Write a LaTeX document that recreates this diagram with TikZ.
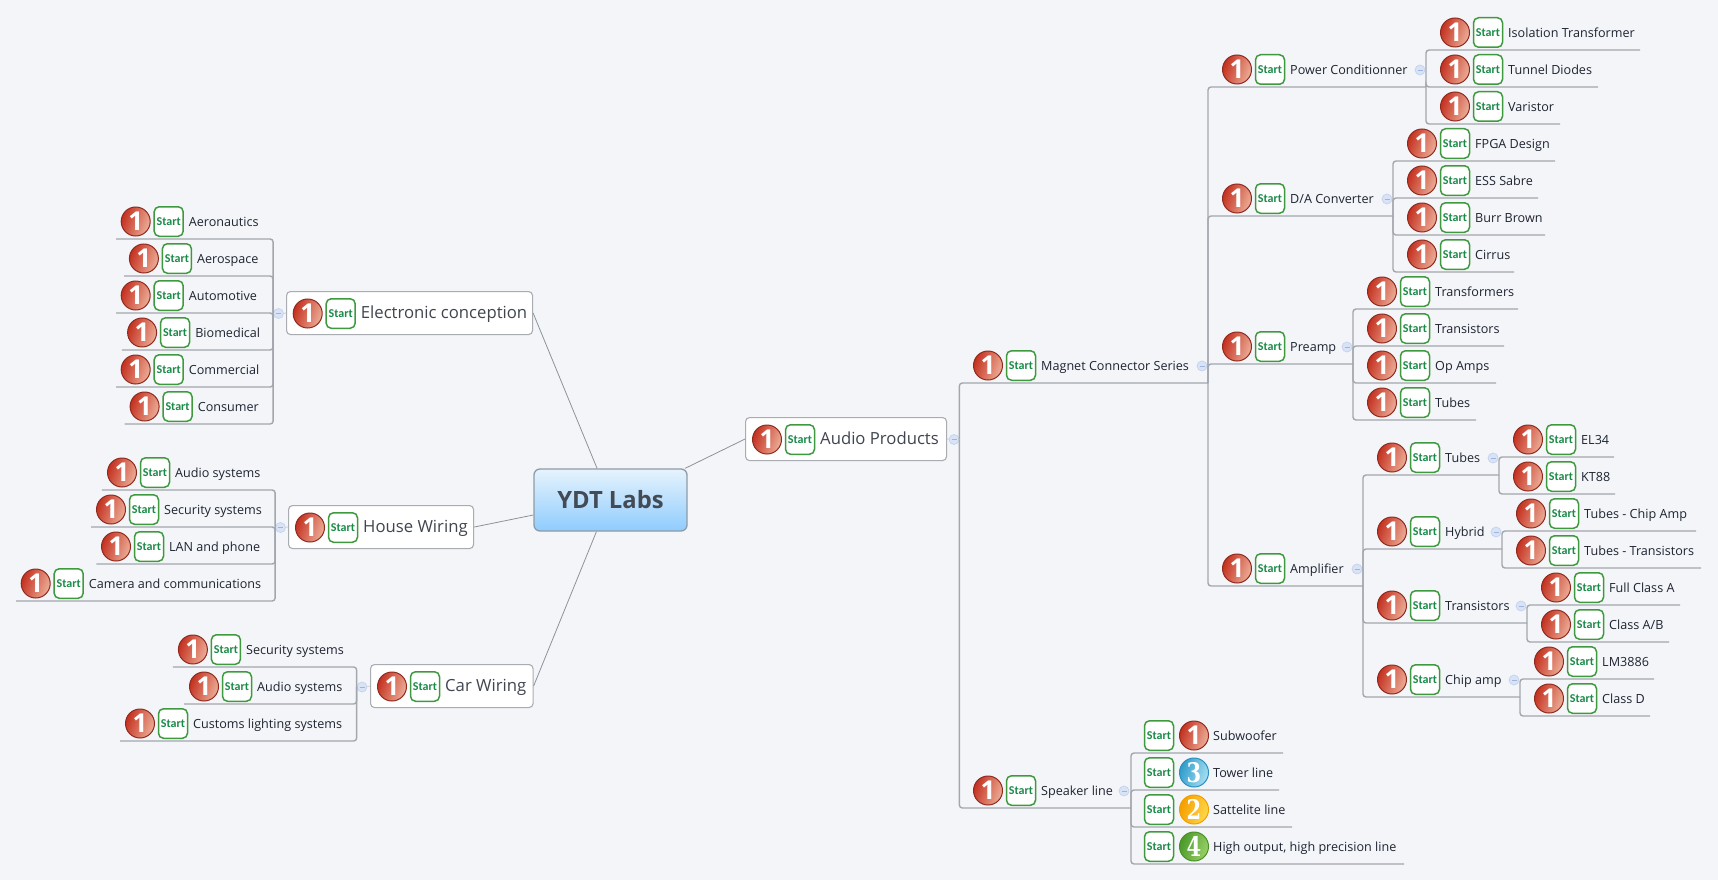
\documentclass[tikz,border=0pt]{standalone}
\usepackage{fontspec}
\setmainfont{Open Sans}
\newfontfamily\startf{Carlito}
\newfontfamily\numf[FakeStretch=0.78]{DejaVu Serif}
\newfontfamily\onef{Open Sans}
\definecolor{bg}{HTML}{F3F5F9}
\definecolor{barc}{HTML}{A3A7AD}
\definecolor{linkc}{HTML}{8E9296}
\definecolor{boxc}{HTML}{A9ADB1}
\definecolor{txtc}{HTML}{1E2430}
\definecolor{startg}{HTML}{1B8A48}
\definecolor{startb}{HTML}{3F9A3F}
\definecolor{redE}{HTML}{8F2A1F}\definecolor{redA}{HTML}{C4301F}\definecolor{redB}{HTML}{ECAE98}
\definecolor{bluE}{HTML}{2C8FBF}\definecolor{bluA}{HTML}{2F9CCB}\definecolor{bluB}{HTML}{A8E0F2}
\definecolor{yelE}{HTML}{F0A000}\definecolor{yelA}{HTML}{F59E00}\definecolor{yelB}{HTML}{FFD84A}
\definecolor{greE}{HTML}{4A9028}\definecolor{greA}{HTML}{4A9A2A}\definecolor{greB}{HTML}{9AD068}
\definecolor{colE}{HTML}{C4D2EE}\definecolor{colF}{HTML}{D9E3F6}\definecolor{colM}{HTML}{9FB4DC}
\definecolor{rootE}{HTML}{8E9CA8}\definecolor{rootA}{HTML}{E6F3FD}\definecolor{rootB}{HTML}{8FCCFD}
\definecolor{rootT}{HTML}{434B55}
\tikzset{
  bar/.style={draw=barc,line width=1.4pt,rounded corners=3pt},
  link/.style={draw=linkc,line width=0.8pt},
  stub/.style={draw=boxc!70!bg,line width=0.7pt},
  itemspan/.style={inner sep=0pt,outer sep=0pt,minimum height=37pt,anchor=south west},
  badgebase/.style={circle,inner sep=0pt,outer sep=0pt,minimum size=29pt,line width=1pt,text=white,
      font=\numf\bfseries\fontsize{27}{27}\selectfont},
  badgered/.style={badgebase,draw=redE,left color=redA,right color=redB,shading angle=70},
  badgeblue/.style={badgebase,draw=bluE,left color=bluA,right color=bluB,shading angle=70},
  badgeyellow/.style={badgebase,draw=yelE,left color=yelA,right color=yelB,shading angle=70},
  badgegreen/.style={badgebase,draw=greE,left color=greA,right color=greB,shading angle=70},
  startbox/.style={rectangle,rounded corners=5pt,draw=startb,fill=white,line width=1.5pt,
      minimum width=29pt,minimum height=29.5pt,inner sep=0pt,text=startg,
      font=\startf\bfseries\fontsize{12}{12}\selectfont},
  itemtext/.style={anchor=base west,inner sep=0pt,text=txtc,font=\fontsize{12.6}{14}\selectfont},
  boxtext/.style={anchor=base west,inner sep=0pt,text=txtc!85!white,font=\fontsize{16.7}{19}\selectfont},
  topicbox/.style={rectangle,rounded corners=4pt,draw=boxc,fill=white,line width=1.1pt,inner sep=0pt,anchor=north west},
  collapse/.style={circle,minimum size=10pt,inner sep=0pt,draw=colE,fill=colF,line width=0.7pt,
      path picture={\draw[colM,line width=0.7pt] ([xshift=-2.5pt]path picture bounding box.center)--([xshift=2.5pt]path picture bounding box.center);}},
  root/.style={rectangle,rounded corners=6pt,draw=rootE,line width=1.3pt,top color=rootA,bottom color=rootB,
      minimum width=153pt,minimum height=62pt,inner sep=0pt,text=rootT,
      font=\bfseries\fontsize{23.8}{28}\selectfont},
}
\def\bnum{{\onef\bfseries\fontsize{26}{26}\selectfont 1}}\def\bsty{badgered}
% #1 id, #2 badge x, #3 start x, #4 text x, #5 base y, #6 left, #7 right, #8 text
\newcommand{\mmcore}[8]{%
  \node[itemspan,minimum width={(#7-#6)*1pt}] (#1) at (#6,#5) {};
  \node[\bsty] (#1-b) at (#2,#5-17.5) {\bnum};
  \node[startbox] (#1-s) at (#3,#5-17.5) {Start};
  \node[itemtext] (#1-t) at (#4,#5-12.8) {#8};
}
\newcommand{\mmR}[6]{\mmcore{#1}{#2}{#2+33}{#2+53}{#3}{#4}{#5}{#6}}
% speaker leaves: start first, then badge
\newcommand{\mmS}[6]{\def\bnum{#2}\def\bsty{#3}\mmcore{#1}{1194}{1159}{1213}{#4}{1131}{#5}{#6}}
% #1 id, #2 x1, #3 x2, #4 y1, #5 y2, #6 badge x, #7 text
\newcommand{\mmBox}[7]{%
  \node[topicbox,minimum width={(#3-#2)*1pt},minimum height={(#5-#4)*1pt}] (#1) at (#2,#4-1) {};
  \node[\bsty] (#1-b) at (#6,{(#4+#5)/2}) {\bnum};
  \node[startbox] (#1-s) at (#6+33,{(#4+#5)/2}) {Start};
  \node[boxtext] (#1-t) at (#6+53,{(#4+#5)/2+4.5}) {#7};
}
\begin{document}
\begin{tikzpicture}[x=1pt,y=-1pt]
\useasboundingbox[fill=bg] (0,0) rectangle (1718,880);

% root and main topics
\node[root] (ydt) at (610.5,500) {YDT Labs};
\mmBox{elec}{286}{532}{292}{335}{307.7}{Electronic conception}
\mmBox{house}{288}{473}{506}{549}{310}{House Wiring}
\mmBox{car}{370}{532.5}{665}{708}{392}{Car Wiring}
\mmBox{audio}{745}{946}{418}{461}{767}{Audio Products}
\draw[link] (ydt.113.5) -- (elec.east);
\draw[link] (ydt.191.8) -- (house.east);
\draw[link] (ydt.246.5) -- (car.east);
\draw[link] (ydt.23.7) -- (audio.west);

% collapse marks of the main topics
\node[collapse] (elec-c) at (278.5,313.5) {};
\node[collapse] (house-c) at (280.5,527.5) {};
\node[collapse] (car-c) at (362,687) {};
\node[collapse] (audio-c) at (954,439.5) {};
\draw[stub] (elec-c) -- (elec.west);
\draw[stub] (house-c) -- (house.west);
\draw[stub] (car-c) -- (car.west);
\draw[stub] (audio-c) -- (audio.east);

% Electronic conception
\mmR{ea}{135.7}{239}{116}{273.5}{Aeronautics}
\mmR{eb}{143.9}{276}{124}{273.5}{Aerospace}
\mmR{ec}{135.7}{313}{116}{273.5}{Automotive}
\mmR{ed}{142.1}{350}{121.8}{273.5}{Biomedical}
\mmR{ee}{135.7}{387}{116}{273.5}{Commercial}
\mmR{ef}{144.6}{424}{124.6}{273.5}{Consumer}
\foreach \c in {ea,eb,ec,ed,ee,ef} \draw[bar] (elec-c.west) |- (\c.south west);

% House Wiring
\mmR{ha}{122}{490}{101.8}{275.5}{Audio systems}
\mmR{hb}{111}{527}{91}{275.5}{Security systems}
\mmR{hc}{116}{564}{96.4}{275.5}{LAN and phone}
\mmR{hd}{35.7}{601}{16}{275.5}{Camera and communications}
\foreach \c in {ha,hb,hc,hd} \draw[bar] (house-c.west) |- (\c.south west);

% Car Wiring
\mmR{ca}{192.9}{667}{172.9}{357}{Security systems}
\mmR{cb}{204}{704}{184}{357}{Audio systems}
\mmR{cc}{140}{741}{120}{357}{Customs lighting systems}
\foreach \c in {ca,cb,cc} \draw[bar] (car-c.west) |- (\c.south west);

% Audio Products -> first level
\mmR{mag}{988}{383}{959}{1208}{Magnet Connector Series}
\mmR{spk}{988}{808}{959}{1131}{Speaker line}
\draw[bar] (audio-c.east) |- (mag.south east);
\draw[bar] (audio-c.east) |- (spk.south east);
\node[collapse] at (1202,366) (mag-c) {};
\node[collapse] at (1124,791) (spk-c) {};

% Magnet Connector Series -> second level
\mmR{pow}{1237}{87}{1208}{1426}{Power Conditionner}
\mmR{dac}{1237}{216}{1208}{1393}{D/A Converter}
\mmR{pre}{1237}{364}{1208}{1353}{Preamp}
\mmR{amp}{1237}{586}{1208}{1363}{Amplifier}
\foreach \c in {pow,dac,pre,amp} \draw[bar] (mag.south east) |- (\c.south east);
\node[collapse] at (1420,70) (pow-c) {};
\node[collapse] at (1387,199) (dac-c) {};
\node[collapse] at (1347,347) (pre-c) {};
\node[collapse] at (1357,569) (amp-c) {};

% Power Conditionner
\mmR{pa}{1455}{50}{1426}{1640}{Isolation Transformer}
\mmR{pb}{1455}{87}{1426}{1598}{Tunnel Diodes}
\mmR{pc}{1455}{124}{1426}{1560}{Varistor}
\foreach \c in {pa,pb,pc} \draw[bar] (pow.south east) |- (\c.south east);

% D/A Converter
\mmR{da}{1422}{161}{1393}{1555}{FPGA Design}
\mmR{db}{1422}{198}{1393}{1538}{ESS Sabre}
\mmR{dc}{1422}{235}{1393}{1545}{Burr Brown}
\mmR{dd}{1422}{272}{1393}{1514}{Cirrus}
\foreach \c in {da,db,dc,dd} \draw[bar] (dac.south east) |- (\c.south east);

% Preamp
\mmR{ra}{1382}{309}{1353}{1518}{Transformers}
\mmR{rb}{1382}{346}{1353}{1504}{Transistors}
\mmR{rc}{1382}{383}{1353}{1496}{Op Amps}
\mmR{rd}{1382}{420}{1353}{1476}{Tubes}
\foreach \c in {ra,rb,rc,rd} \draw[bar] (pre.south east) |- (\c.south east);

% Amplifier
\mmR{aT}{1392}{475}{1363}{1499}{Tubes}
\mmR{aH}{1392}{549}{1363}{1502}{Hybrid}
\mmR{aR}{1392}{623}{1363}{1527}{Transistors}
\mmR{aC}{1392}{697}{1363}{1520}{Chip amp}
\foreach \c in {aT,aH,aR,aC} \draw[bar] (amp.south east) |- (\c.south east);
\node[collapse] at (1493,458) (aT-c) {};
\node[collapse] at (1496,532) (aH-c) {};
\node[collapse] at (1521,606) (aR-c) {};
\node[collapse] at (1514,680) (aC-c) {};

\mmR{ta}{1528}{457}{1499}{1614}{EL34}
\mmR{tb}{1528}{494}{1499}{1615}{KT88}
\foreach \c in {ta,tb} \draw[bar] (aT.south east) |- (\c.south east);
\mmR{ya}{1531}{531}{1502}{1696}{Tubes - Chip Amp}
\mmR{yb}{1531}{568}{1502}{1701}{Tubes - Transistors}
\foreach \c in {ya,yb} \draw[bar] (aH.south east) |- (\c.south east);
\mmR{xa}{1556}{605}{1527}{1680}{Full Class A}
\mmR{xb}{1556}{642}{1527}{1669}{Class A/B}
\foreach \c in {xa,xb} \draw[bar] (aR.south east) |- (\c.south east);
\mmR{za}{1549}{679}{1520}{1654}{LM3886}
\mmR{zb}{1549}{716}{1520}{1650}{Class D}
\foreach \c in {za,zb} \draw[bar] (aC.south east) |- (\c.south east);

% Speaker line
\mmS{sa}{{\onef\bfseries\fontsize{26}{26}\selectfont 1}}{badgered}{753}{1283}{Subwoofer}
\mmS{sb}{3}{badgeblue}{790}{1279}{Tower line}
\mmS{sc}{2}{badgeyellow}{827}{1292}{Sattelite line}
\mmS{sd}{4}{badgegreen}{864}{1404}{High output, high precision line}
\foreach \c in {sa,sb,sc,sd} \draw[bar] (spk.south east) |- (\c.south east);
\end{tikzpicture}
\end{document}
